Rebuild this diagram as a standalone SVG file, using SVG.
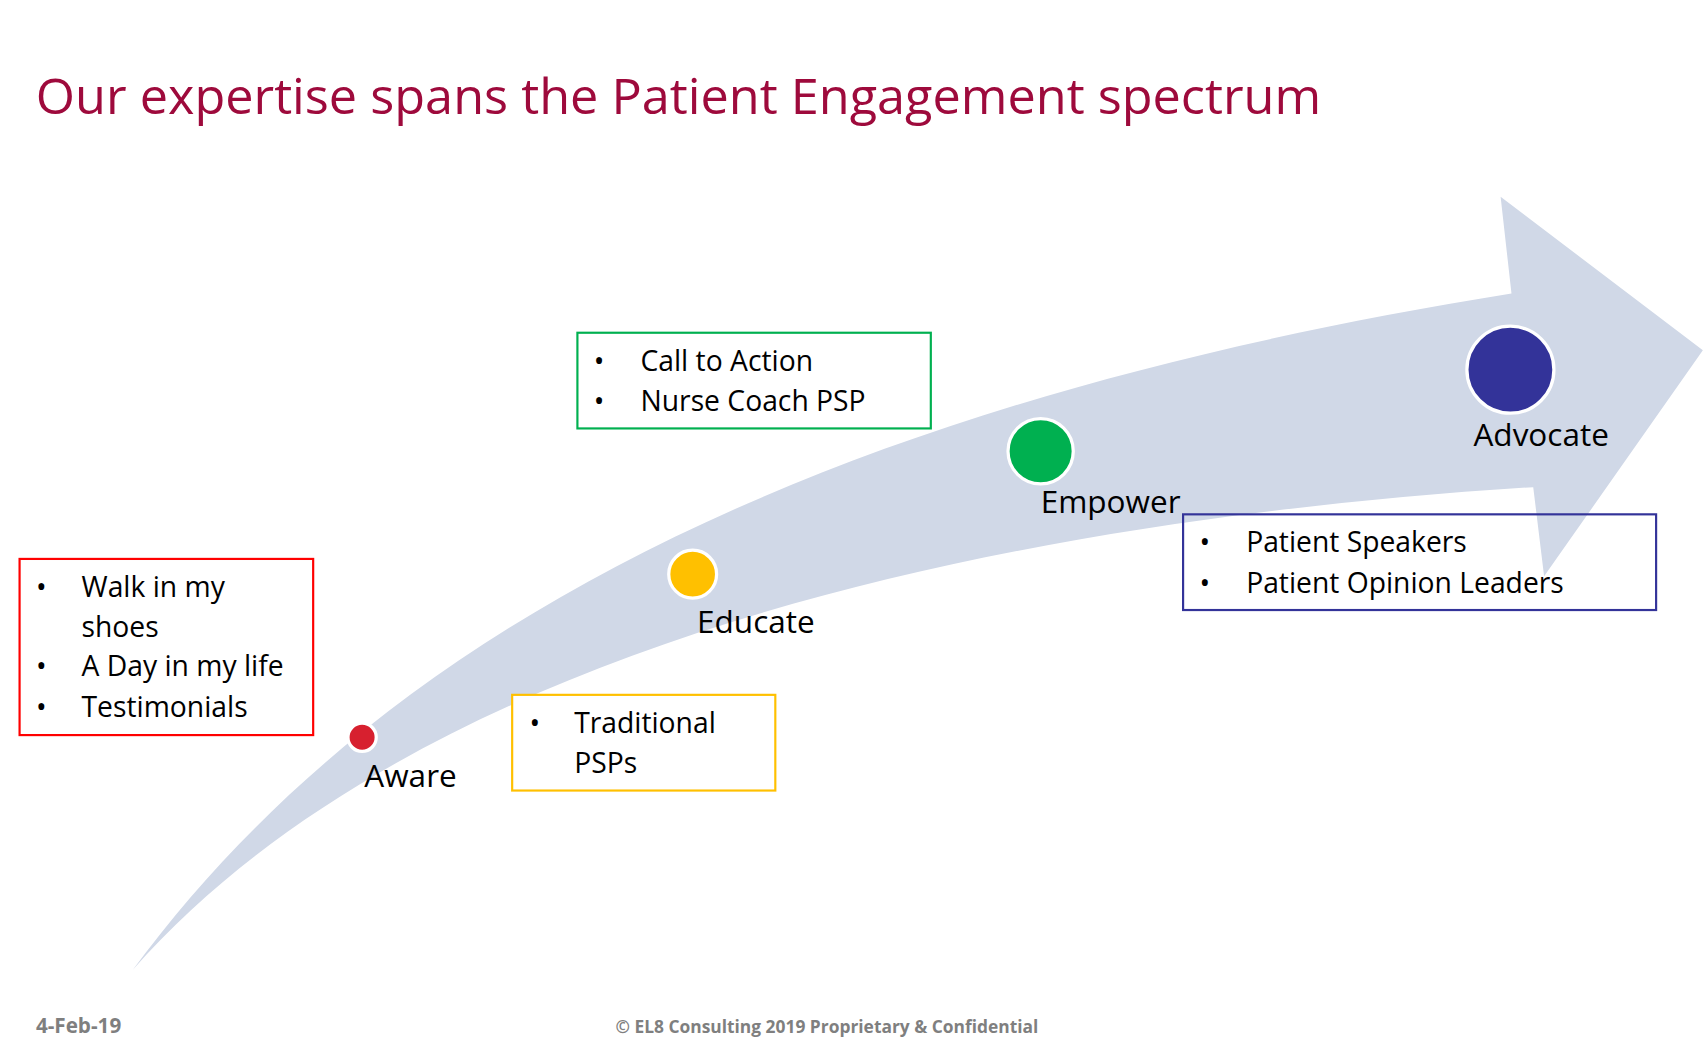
<svg xmlns="http://www.w3.org/2000/svg" width="1705" height="1057" viewBox="0 0 1705 1057">
<style>
.t{font-family:"Open Sans","Liberation Sans",sans-serif;fill:#000}
.b{font-size:26px}
.lbl{font-size:29px}
.f{font-family:"Open Sans","Liberation Sans",sans-serif;font-weight:bold;fill:#7F7F7F}
.box{fill:#fff;stroke-width:2}
.dot{stroke:#fff;stroke-width:3}
</style>
<rect width="1705" height="1057" fill="#fff"/>
<g transform="scale(1.0874)">
<text class="t" x="33" y="105" font-size="46" style="fill:#9E0A3C" textLength="1182" lengthAdjust="spacingAndGlyphs">Our expertise spans the Patient Engagement spectrum</text>
<g id="arrow">
<path d="M122,892 C330,610 700,380 1390,270 L1380,181 L1566,322 L1420,530 L1410,448 C900,480 380,600 122,892 Z" fill="#D0D8E7"/>
</g>
<g id="connectors"></g>
<g id="aware"><circle class="dot" cx="333" cy="678" r="13" fill="#D7202F"/><text class="t lbl" x="335" y="724">Aware</text></g>
<g id="educate"><circle class="dot" cx="637" cy="528" r="22" fill="#FFC000"/><text class="t lbl" x="641" y="582">Educate</text></g>
<g id="empower"><circle class="dot" cx="957" cy="415" r="30" fill="#00B050"/><text class="t lbl" x="957" y="472">Empower</text></g>
<g id="advocate"><circle class="dot" cx="1389" cy="340" r="40" fill="#333399"/><text class="t lbl" x="1355" y="410">Advocate</text></g>
<g id="box-aware"><rect class="box" x="18" y="514" width="270" height="162" stroke="#FF0000"/>
<text class="t b" x="33" y="549">•</text><text class="t b" x="75" y="549">Walk in my</text>
<text class="t b" x="75" y="586">shoes</text>
<text class="t b" x="33" y="622">•</text><text class="t b" x="75" y="622">A Day in my life</text>
<text class="t b" x="33" y="659">•</text><text class="t b" x="75" y="659">Testimonials</text></g>
<g id="box-empower"><rect class="box" x="531" y="306" width="325" height="88" stroke="#00B050"/>
<text class="t b" x="546" y="341">•</text><text class="t b" x="589" y="341">Call to Action</text>
<text class="t b" x="546" y="378">•</text><text class="t b" x="589" y="378">Nurse Coach PSP</text></g>
<g id="box-educate"><rect class="box" x="471" y="639" width="242" height="88" stroke="#FFC000"/>
<text class="t b" x="487" y="674">•</text><text class="t b" x="528" y="674">Traditional</text>
<text class="t b" x="528" y="711">PSPs</text></g>
<g id="box-advocate"><rect x="1088" y="473" width="435" height="88" fill="none" stroke="#333399" stroke-width="2"/>
<text class="t b" x="1103" y="508">•</text><text class="t b" x="1146" y="508">Patient Speakers</text>
<text class="t b" x="1103" y="545">•</text><text class="t b" x="1146" y="545">Patient Opinion Leaders</text></g>
<text class="f" x="33" y="950" font-size="19">4-Feb-19</text>
<text class="f" x="566" y="950" font-size="16">© EL8 Consulting 2019 Proprietary &amp; Confidential</text>
</g>
</svg>
